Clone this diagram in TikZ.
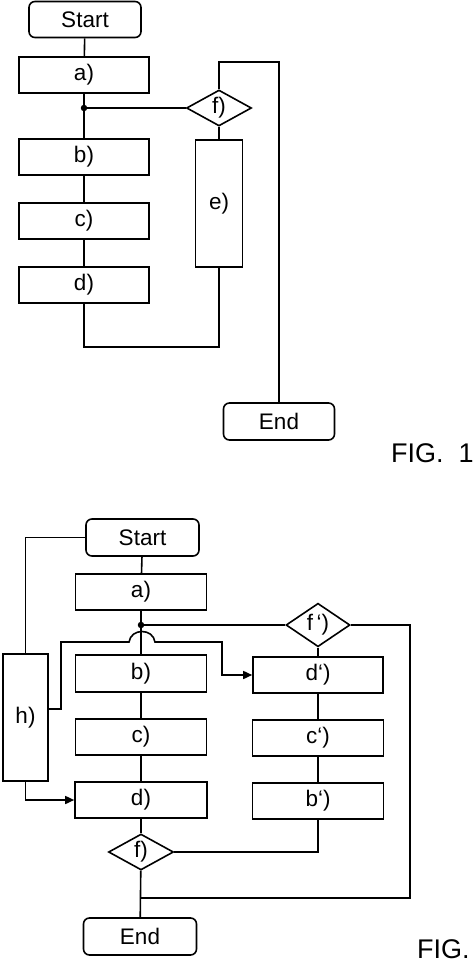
\documentclass[tikz,border=0pt]{standalone}
\usepackage{fontspec}
\setmainfont{Liberation Sans}
\usetikzlibrary{shapes.geometric,arrows.meta}
\begin{document}
\begin{tikzpicture}[x=1pt,y=-1pt,
  every node/.style={inner sep=0pt, font=\fontsize{22.5}{25}\selectfont},
  box/.style={draw, line width=1.6pt, minimum width=130pt, minimum height=36pt},
  term/.style={box, rounded corners=6pt, minimum width=112pt, minimum height=36pt},
  dec/.style={draw, diamond, line width=1.6pt, minimum width=65pt, minimum height=36pt},
  conn/.style={line width=1.6pt},
  arr/.style={conn, -{Triangle[length=9pt,width=8pt]}},
  junc/.style={circle, fill, minimum size=6.5pt},
  fig/.style={font=\fontsize{27}{30}\selectfont, anchor=base west}]
\useasboundingbox (0,0) rectangle (474,963);

% ---------- FIG. 1 ----------
\node[term] (start1) at (85,19.5) {Start};
\node[box] (a1) at (84,75) {a)};
\node[junc] (dot1) at (84,108) {};
\node[dec] (f1) at (219,108) {f)};
\node[box] (b1) at (84,157) {b)};
\node[box] (c1) at (84,221) {c)};
\node[box] (d1) at (84,285) {d)};
\node[box, minimum width=47pt, minimum height=127pt] (e1) at (219,203.5) {e)};
\node[term, minimum width=111pt, minimum height=37pt] (end1) at (279,421.5) {End};
\node[fig] (fig1) at (391,462) {FIG.\ \ 1};
\coordinate (t1) at (279,62);
\coordinate (bot1) at (84,347);

\draw[conn] (start1) -- (a1);
\draw[conn] (a1) -- (dot1) -- (b1);
\draw[conn] (b1) -- (c1);
\draw[conn] (c1) -- (d1);
\draw[conn] (dot1) -- (f1.west);
\draw[conn] (f1) -- (e1);
\draw[conn] (f1.north) |- (t1) -- (end1.north);
\draw[conn] (e1.south) |- (bot1) -- (d1.south);

% ---------- FIG. 2 ----------
\node[term, minimum width=113pt, minimum height=37pt] (start2) at (142.5,537.5) {Start};
\node[box, minimum width=131pt] (a2) at (141,592) {a)};
\node[junc] (dot2) at (141,625) {};
\node[dec, minimum width=64pt] (fp) at (318,625) {f\,‘)};
\node[box, minimum width=131pt, minimum height=37pt] (b2) at (141,673.5) {b)};
\node[box, minimum width=131pt] (c2) at (141,737) {c)};
\node[box, minimum width=132pt] (d2) at (141,800) {d)};
\node[dec] (f2) at (141,852) {f)};
\node[term, minimum width=113pt, minimum height=37pt] (end2) at (140,936.5) {End};
\node[box] (dp) at (318,675) {d‘)};
\node[box, minimum width=131pt] (cp) at (318,738) {c‘)};
\node[box, minimum width=131pt] (bp) at (318,801) {b‘)};
\node[box, minimum width=45pt, minimum height=127pt] (h) at (25.5,717.5) {h)};
\node[fig] (fig2) at (417,958) {FIG.};

\coordinate (rc) at (410,898);
\coordinate (jc) at (141,898);
\coordinate (hj) at (61,709);
\coordinate (hl) at (61,642);
\coordinate (hu1) at (129,642);
\coordinate (hu2) at (155,642);
\coordinate (hc1) at (131,628);
\coordinate (hc2) at (153,628);
\coordinate (hk) at (222,642);

\draw[conn] (start2) -- (a2);
\draw[conn] (a2) -- (dot2) -- (b2);
\draw[conn] (b2) -- (c2);
\draw[conn] (c2) -- (d2);
\draw[conn] (d2) -- (f2);
\draw[conn] (f2) -- (end2);
\draw[conn] (dot2) -- (fp.west);
\draw[conn] (fp) -- (dp);
\draw[conn] (dp) -- (cp);
\draw[conn] (cp) -- (bp);
\draw[conn] (bp.south) |- (f2.east);
\draw[conn] (fp.east) -| (rc) -- (jc);
\draw[conn] (start2.west) -| (h.north);
\draw[arr] (h.south) |- (d2.west);
\draw[arr] (h.east |- hj) -- (hj) -- (hl) -- (hu1) .. controls (hc1) and (hc2) .. (hu2) -- (hk) |- (dp.west);
\end{tikzpicture}
\end{document}
